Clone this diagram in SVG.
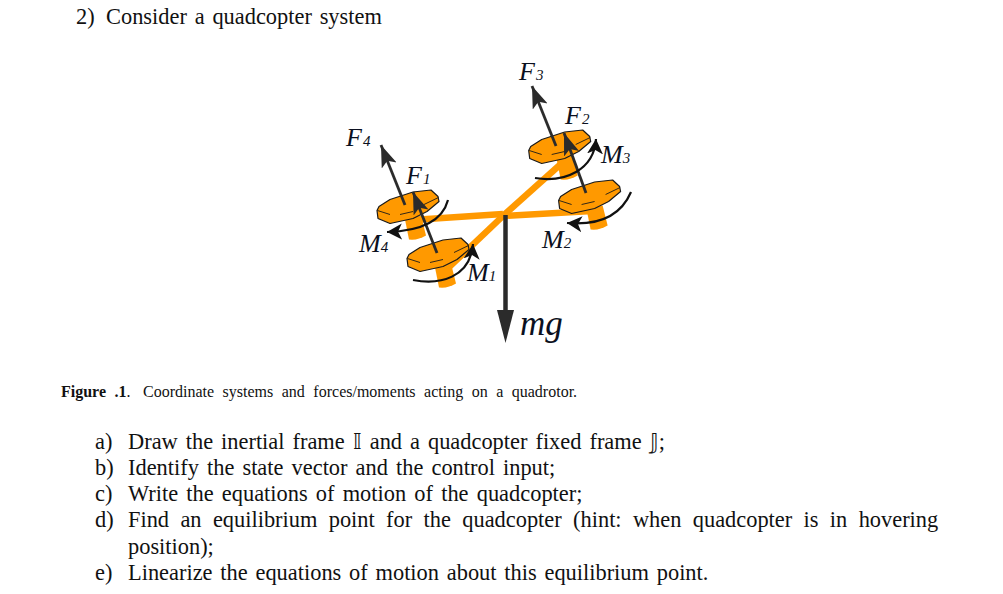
<svg xmlns="http://www.w3.org/2000/svg" width="1003" height="594" viewBox="0 0 1003 594">
<style>
text{font-family:"Liberation Serif","Times New Roman",serif;fill:#111}
.b{font-size:22.4px;word-spacing:2.2px}
.c{font-size:16px;word-spacing:4.5px}
.bb{font-weight:bold}
.l{font-size:26px;font-style:italic;fill:#0b1020}
.s{font-size:15px}
.arm{stroke:#ff9900;stroke-width:6.5;fill:none}
.f{stroke:#2b2b2b;stroke-width:2.8;fill:none}
.m{stroke:#111;stroke-width:2.2;fill:none}
.disk{fill:#ff9900;stroke:#1a1a1a;stroke-width:1.2;stroke-linejoin:round}
.stem{fill:#ff9900;stroke:none}
</style>
<defs>
<marker id="hf" markerUnits="userSpaceOnUse" markerWidth="26" markerHeight="22" refX="22" refY="11" orient="auto"><path d="M0 3L22 11L0 19L5 11Z" fill="#2b2b2b"/></marker>
<marker id="hm" markerUnits="userSpaceOnUse" markerWidth="18" markerHeight="18" refX="15" refY="8" orient="auto"><path d="M0 0L15 8L0 16L4 8Z" fill="#111"/></marker>
<g id="rotor">
<path class="stem" d="M-3 14L1 34Q10 35 18 30L13 10Z"/>
<path class="disk" d="M-31 5L-29 1L-18 -6L5 -13.500L23 -15.500L30 -9L31 -4L19 6L5 13L-18 18L-30 13Z"/>
<path d="M-30.500 5L-18 9M-8 9L5 6M16 -1L30.500 -8" fill="none" stroke="#1a1a1a" stroke-width="0.9"/>
</g>
</defs>
<text class="b" x="76" y="23.500">2)</text>
<text class="b" x="106" y="23.500">Consider a quadcopter system</text>

<g id="connectors">
<path class="arm" d="M503 214L420 219.500"/>
<path class="arm" d="M503 216L592 211"/>
<path class="arm" d="M504 215L444 272"/>
<path class="arm" d="M504 215L562 163"/>
</g>
<g id="rotor4"><use href="#rotor" x="408" y="205.500"/></g>
<g id="rotor1"><use href="#rotor" x="438" y="253.500"/></g>
<g id="rotor3"><use href="#rotor" x="559.700" y="145.500"/></g>
<g id="rotor2"><use href="#rotor" x="589.600" y="195.500"/></g>
<g id="forces">
<path class="f" d="M405 205L381 145" marker-end="url(#hf)"/>
<path class="f" d="M437 253L413 192" marker-end="url(#hf)"/>
<path class="f" d="M556 146L532 86" marker-end="url(#hf)"/>
<path class="f" d="M586 193L564 133" marker-end="url(#hf)"/>
<path class="f" d="M505.500 215L505.500 320" style="stroke-width:4.500"/>
<path d="M497 310L514 310L505.500 343Z" fill="#2b2b2b"/>
</g>
<g id="moments">
<path class="m" d="M448 200C443 219 425 231 387 232" marker-end="url(#hm)"/>
<path class="m" d="M413 280C440 285 470 278 473 244" marker-end="url(#hm)"/>
<path class="m" d="M535 178C565 183 594 170 596 139" marker-end="url(#hm)"/>
<path class="m" d="M631 192C622 213 603 226 567 223" marker-end="url(#hm)"/>
</g>
<g id="labels">
<text class="l" x="519" y="80">F<tspan class="s" dx="1">3</tspan></text>
<text class="l" x="565" y="124">F<tspan class="s" dx="1">2</tspan></text>
<text class="l" x="346" y="146">F<tspan class="s" dx="1">4</tspan></text>
<text class="l" x="406" y="184">F<tspan class="s" dx="1">1</tspan></text>
<text class="l" x="601" y="163">M<tspan class="s">3</tspan></text>
<text class="l" x="542" y="248">M<tspan class="s">2</tspan></text>
<text class="l" x="359" y="252">M<tspan class="s">4</tspan></text>
<text class="l" x="467" y="281">M<tspan class="s">1</tspan></text>
<text class="l" x="520" y="335" style="font-size:35px">mg</text>
</g>
<text class="c" x="61" y="397"><tspan class="bb">Figure .1</tspan>.</text>
<text class="c" x="143" y="397">Coordinate systems and forces/moments acting on a quadrotor.</text>
<text class="b" x="95" y="448.500">a)</text><text class="b" x="128" y="448.500" style="word-spacing:2.4px">Draw the inertial frame 𝕀 and a quadcopter fixed frame 𝕁;</text>
<text class="b" x="95" y="474.500">b)</text><text class="b" x="128" y="474.500" style="word-spacing:2.5px">Identify the state vector and the control input;</text>
<text class="b" x="95" y="500.500">c)</text><text class="b" x="128" y="500.500" style="word-spacing:2.6px">Write the equations of motion of the quadcopter;</text>
<text class="b" x="95" y="526.500">d)</text><text class="b" x="128" y="526.500" style="word-spacing:5.75px">Find an equilibrium point for the quadcopter (hint: when quadcopter is in hovering</text>
<text class="b" x="128" y="553.500">position);</text>
<text class="b" x="95" y="579.500">e)</text><text class="b" x="128" y="579.500">Linearize the equations of motion about this equilibrium point.</text>
</svg>
